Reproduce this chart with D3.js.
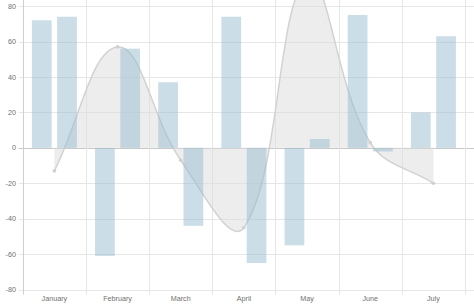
<!DOCTYPE html>
<html>
<head>
    <meta charset="utf-8">
    <title>Bar + Line</title>
    <script type="text/javascript" src="https://cdn.jsdelivr.net/npm/d3@7"></script>
    <style>
        body{ margin: 0; background: #fff; }
        svg text{
            font-family: "Liberation Sans", Arial, sans-serif;
            font-size: 7.2px;
            fill: #707070;
        }
        .grid line{ stroke: #e6e6e6; stroke-width: 1; }
    </style>
</head>
<body>
<script type="text/javascript">

    var categories = ['January', 'February', 'March', 'April', 'May', 'June', 'July'];
    var barsA = [72, -61, 37, 74, -55, 75, 20];
    var barsB = [74, 56, -44, -65, 5, -2, 63];
    var lineData = [-13, 57, -7, -45, 95, 3, -20];
    var yTicks = [-80, -60, -40, -20, 0, 20, 40, 60, 80];

    var width = 474,
        height = 306,
        left = 22.8,
        right = 465;

    var x0 = d3.scaleBand()
        .domain(categories)
        .range([left, right]);

    var x1 = d3.scaleBand()
        .domain([0, 1])
        .range([0, x0.bandwidth()])
        .paddingInner(0.22)
        .paddingOuter(0.36);

    // top of chart is cropped, 100 sits above the picture
    var y = d3.scaleLinear()
        .domain([-80, 100])
        .range([289.6, -29.3]);

    var svg = d3.select('body').append('svg')
        .attr('width', width)
        .attr('height', height);

    // horizontal grid
    var grid = svg.append('g').classed('grid', true);
    grid.selectAll('line.h')
        .data(yTicks)
        .enter().append('line')
            .attr('class', 'h')
            .attr('x1', left - 4)
            .attr('x2', width)
            .attr('y1', (d) => Math.round(y(d)) + 0.5)
            .attr('y2', (d) => Math.round(y(d)) + 0.5)
            .style('stroke', (d) => d === 0 ? '#c8c8c8' : null);

    // vertical grid at category edges
    var edges = categories.map((c) => x0(c)).concat([right]);
    grid.selectAll('line.v')
        .data(edges)
        .enter().append('line')
            .attr('class', 'v')
            .attr('x1', (d) => Math.round(d) + 0.5)
            .attr('x2', (d) => Math.round(d) + 0.5)
            .attr('y1', 0)
            .attr('y2', y(-80) + 5)
            .style('stroke', (d, i) => i === 0 ? '#cfcfcf' : null);

    // y labels
    svg.selectAll('text.ylab')
        .data(yTicks)
        .enter().append('text')
            .attr('class', 'ylab')
            .attr('x', 16)
            .attr('y', (d) => y(d))
            .attr('dy', '0.35em')
            .attr('text-anchor', 'end')
            .text((d) => d);

    // x labels
    svg.selectAll('text.xlab')
        .data(categories)
        .enter().append('text')
            .attr('class', 'xlab')
            .attr('x', (d) => x0(d) + x0.bandwidth() / 2)
            .attr('y', 301)
            .attr('text-anchor', 'middle')
            .text((d) => d);

    // chart.js style spline (tension 0.4)
    var pts = lineData.map(function(v, i){
        return {x: x0(categories[i]) + x0.bandwidth() / 2, y: y(v)};
    });

    function splinePath(p, ctx){
        var t = 0.4, cps = [];
        p.forEach(function(cur, i){
            var prev = p[Math.max(0, i - 1)], next = p[Math.min(p.length - 1, i + 1)];
            var d01 = Math.hypot(cur.x - prev.x, cur.y - prev.y),
                d12 = Math.hypot(next.x - cur.x, next.y - cur.y);
            var s01 = d01 / (d01 + d12) || 0, s12 = d12 / (d01 + d12) || 0;
            var fa = t * s01, fb = t * s12;
            cps.push({
                px: cur.x - fa * (next.x - prev.x), py: cur.y - fa * (next.y - prev.y),
                nx: cur.x + fb * (next.x - prev.x), ny: cur.y + fb * (next.y - prev.y)
            });
        });
        ctx.moveTo(p[0].x, p[0].y);
        for (var i = 1; i < p.length; i++){
            ctx.bezierCurveTo(cps[i - 1].nx, cps[i - 1].ny, cps[i].px, cps[i].py, p[i].x, p[i].y);
        }
        return ctx;
    }

    var area = splinePath(pts, d3.path());
    area.lineTo(pts[pts.length - 1].x, y(0));
    area.lineTo(pts[0].x, y(0));
    area.closePath();

    svg.append('path')
        .attr('d', area.toString())
        .attr('fill', 'rgba(220,220,220,0.5)');

    svg.append('path')
        .attr('d', splinePath(pts, d3.path()).toString())
        .attr('fill', 'none')
        .attr('stroke', '#d2d2d2')
        .attr('stroke-width', 1.5);

    svg.selectAll('circle.pt')
        .data(pts)
        .enter().append('circle')
            .attr('class', 'pt')
            .attr('cx', (d) => d.x)
            .attr('cy', (d) => d.y)
            .attr('r', 1.8)
            .attr('fill', '#d0d0d0');

    // bars
    [barsA, barsB].forEach(function(series, s){
        svg.selectAll('rect.s' + s)
            .data(series)
            .enter().append('rect')
                .attr('class', 's' + s)
                .attr('x', (d, i) => x0(categories[i]) + x1(s))
                .attr('width', x1.bandwidth())
                .attr('y', (d) => y(Math.max(0, d)))
                .attr('height', (d) => Math.abs(y(d) - y(0)))
                .attr('fill', 'rgba(151,187,205,0.5)');
    });

</script>
</body>
</html>
